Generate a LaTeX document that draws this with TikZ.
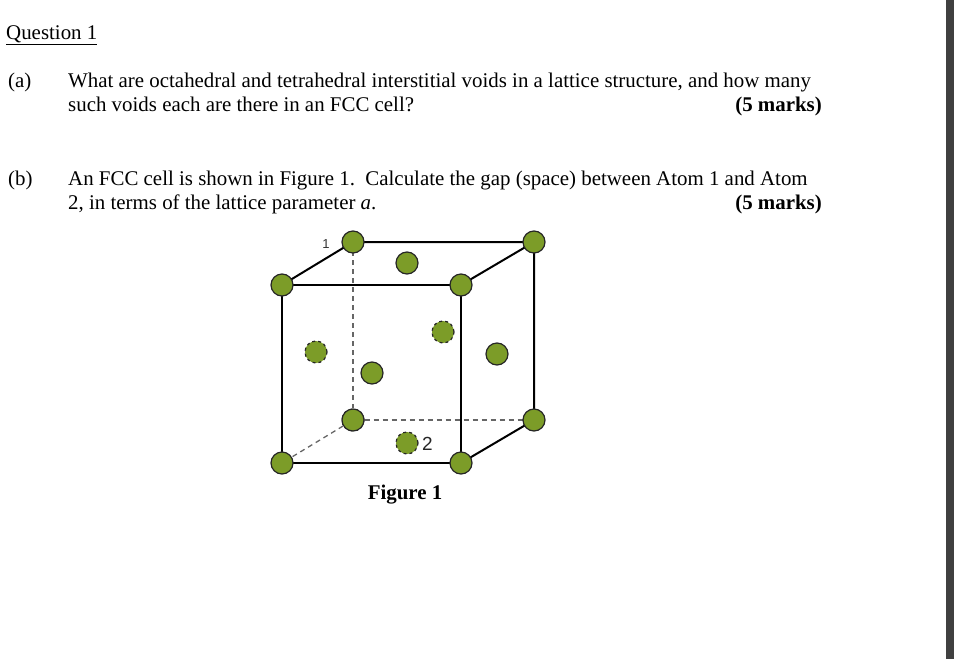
\documentclass[tikz,border=0pt]{standalone}
\usepackage{fontspec}
\setmainfont{Liberation Serif}
\newfontfamily\sfx{Liberation Sans}
\definecolor{atomg}{RGB}{124,156,40}
\begin{document}
\begin{tikzpicture}[x=1pt,y=-1pt,
  txt/.style={anchor=base west,inner sep=0,font=\fontsize{20.9}{24}\selectfont},
  atom/.style={circle,draw=black!85,line width=1.2pt,fill=atomg,minimum size=22pt,inner sep=0},
  hatom/.style={atom,dashed},
  edge/.style={line width=2pt,black},
  hedge/.style={line width=1.3pt,black!60,dash pattern=on 5pt off 4pt}]
\fill[white] (0,0) rectangle (954,659);
\fill[black!75] (946,0) rectangle (954,659);
\useasboundingbox (0,0) rectangle (954,659);
\node[txt] (q) at (6,39) {\underline{Question 1}};
\node[txt] (a) at (8,87) {(a)};
\node[txt] (a1) at (68,87) {What are octahedral and tetrahedral interstitial voids in a lattice structure, and how many};
\node[txt] (a2) at (68,111) {such voids each are there in an FCC cell?};
\node[txt,anchor=base east] (am) at (822,111) {\textbf{(5 marks)}};
\node[txt] (b) at (8,185) {(b)};
\node[txt] (b1) at (68,185) {An FCC cell is shown in Figure 1.\ \ Calculate the gap (space) between Atom 1 and Atom};
\node[txt] (b2) at (68,209) {2, in terms of the lattice parameter \textit{a}.};
\node[txt,anchor=base east] (bm) at (822,209) {\textbf{(5 marks)}};
% cube
\node[hatom] (bbl) at (353,420) {};
\draw[hedge] (353,242) -- (bbl);
\draw[hedge] (bbl) -- (534,420);
\draw[hedge] (bbl) -- (282,463);
\draw[edge] (282,285) -- (461,285) -- (461,463) -- (282,463) -- cycle;
\draw[edge] (353,242) -- (534,242) -- (534,420) -- (461,463);
\draw[edge] (282,285) -- (353,242);
\draw[edge] (461,285) -- (534,242);
\node[atom] (ftl) at (282,285) {};
\node[atom] (ftr) at (461,285) {};
\node[atom] (fbl) at (282,463) {};
\node[atom] (fbr) at (461,463) {};
\node[atom] (btl) at (353,242) {};
\node[atom] (btr) at (534,242) {};
\node[atom] (bbr) at (534,420) {};
\node[atom] at (353,420) {};
\node[atom] (ctop) at (407,263) {};
\node[hatom] (cleft) at (316,352) {};
\node[hatom] (cback) at (443,332) {};
\node[atom] (cright) at (497,354) {};
\node[atom] (cfront) at (372,373) {};
\node[hatom] (cbot) at (407,443) {};
\node[font=\sfx\fontsize{13}{15}\selectfont,text=black!80] (l1) at (326,244) {1};
\node[font=\sfx\fontsize{19}{22}\selectfont,text=black!85,anchor=west,inner sep=0] (l2) at (422,444) {2};
\node[txt,anchor=base] (fig) at (405,499) {\textbf{Figure 1}};
\end{tikzpicture}
\end{document}
